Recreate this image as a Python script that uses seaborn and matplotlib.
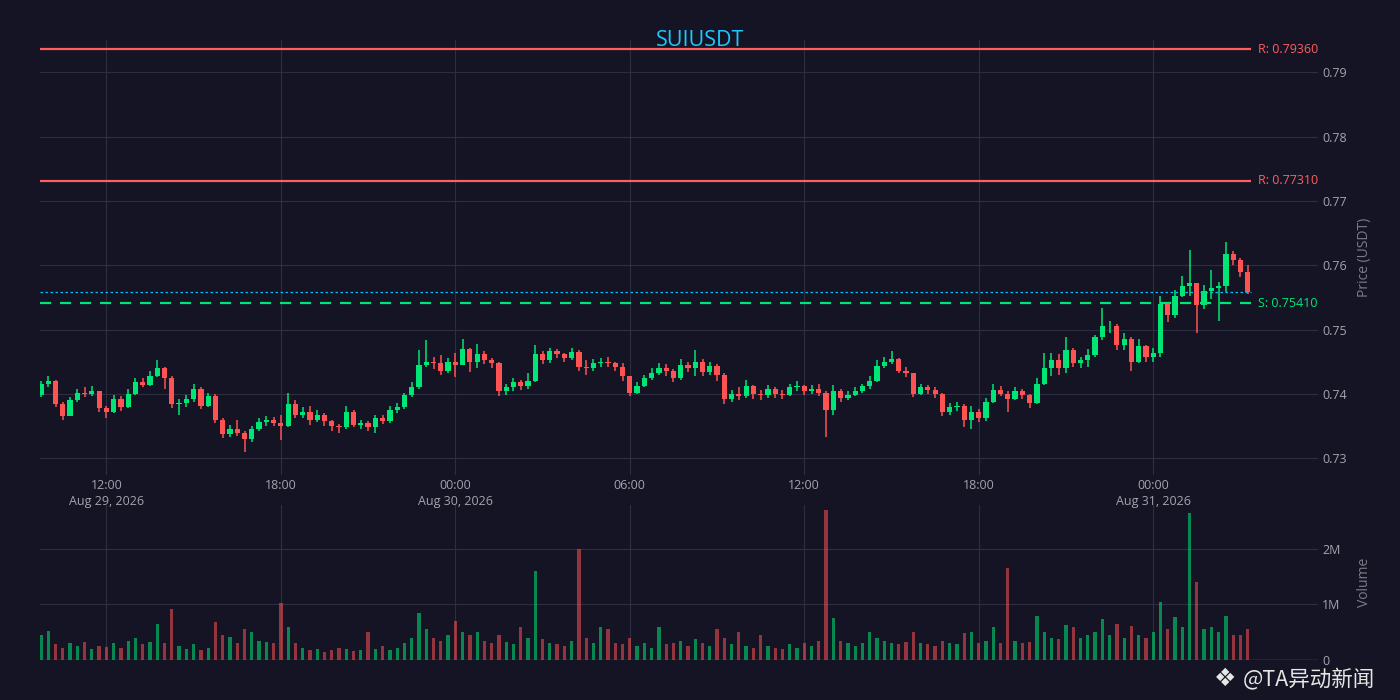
import matplotlib
matplotlib.use("Agg")
import matplotlib.pyplot as plt
import matplotlib.dates as mdates
import numpy as np
import pandas as pd
import seaborn as sns

# 15 minute candles, SUIUSDT
symbol = "SUIUSDT"
start_time = "2026-08-29 09:45"
first_open = 0.7398

closes = [
    0.7415, 0.7420, 0.7385, 0.7365, 0.7390, 0.7402, 0.7400, 0.7405, 0.7378, 0.7372,
    0.7392, 0.7380, 0.7400, 0.7418, 0.7414, 0.7428, 0.7440, 0.7425, 0.7385, 0.7386,
    0.7392, 0.7408, 0.7382, 0.7396, 0.7360, 0.7338, 0.7345, 0.7340, 0.7330, 0.7345,
    0.7356, 0.7360, 0.7355, 0.7350, 0.7385, 0.7368, 0.7372, 0.7360, 0.7368, 0.7358,
    0.7350, 0.7348, 0.7372, 0.7352, 0.7355, 0.7348, 0.7362, 0.7358, 0.7375, 0.7380,
    0.7398, 0.7410, 0.7445, 0.7450, 0.7448, 0.7436, 0.7450, 0.7445, 0.7470, 0.7450,
    0.7462, 0.7452, 0.7448, 0.7405, 0.7410, 0.7418, 0.7412, 0.7420, 0.7462, 0.7452,
    0.7466, 0.7462, 0.7456, 0.7465, 0.7442, 0.7440, 0.7448, 0.7450, 0.7448, 0.7442,
    0.7428, 0.7402, 0.7412, 0.7424, 0.7432, 0.7440, 0.7436, 0.7424, 0.7445, 0.7440,
    0.7450, 0.7434, 0.7444, 0.7430, 0.7392, 0.7400, 0.7396, 0.7412, 0.7400, 0.7398,
    0.7408, 0.7400, 0.7398, 0.7410, 0.7412, 0.7404, 0.7408, 0.7402, 0.7375, 0.7405,
    0.7394, 0.7398, 0.7404, 0.7412, 0.7420, 0.7444, 0.7450, 0.7455, 0.7436, 0.7432,
    0.7400, 0.7410, 0.7406, 0.7400, 0.7372, 0.7380, 0.7382, 0.7360, 0.7372, 0.7362,
    0.7388, 0.7406, 0.7400, 0.7392, 0.7404, 0.7398, 0.7386, 0.7415, 0.7440, 0.7452,
    0.7440, 0.7468, 0.7448, 0.7452, 0.7460, 0.7488, 0.7505, 0.7506, 0.7476, 0.7486,
    0.7450, 0.7474, 0.7458, 0.7464, 0.7540, 0.7522, 0.7552, 0.7568, 0.7572, 0.7538,
    0.7560, 0.7565, 0.7568, 0.7618, 0.7608, 0.7590, 0.7558,
]
highs = [
    0.7420, 0.7428, 0.7422, 0.7388, 0.7395, 0.7408, 0.7410, 0.7412, 0.7405, 0.7382,
    0.7398, 0.7396, 0.7408, 0.7425, 0.7424, 0.7436, 0.7452, 0.7442, 0.7428, 0.7392,
    0.7398, 0.7416, 0.7410, 0.7402, 0.7400, 0.7362, 0.7352, 0.7360, 0.7342, 0.7350,
    0.7362, 0.7366, 0.7364, 0.7368, 0.7402, 0.7390, 0.7380, 0.7382, 0.7375, 0.7370,
    0.7360, 0.7354, 0.7382, 0.7375, 0.7360, 0.7358, 0.7368, 0.7368, 0.7382, 0.7386,
    0.7402, 0.7418, 0.7468, 0.7484, 0.7458, 0.7460, 0.7456, 0.7464, 0.7485, 0.7472,
    0.7477, 0.7466, 0.7456, 0.7450, 0.7416, 0.7424, 0.7422, 0.7432, 0.7476, 0.7466,
    0.7472, 0.7470, 0.7464, 0.7472, 0.7468, 0.7452, 0.7454, 0.7456, 0.7458, 0.7450,
    0.7448, 0.7428, 0.7418, 0.7430, 0.7440, 0.7448, 0.7446, 0.7438, 0.7455, 0.7450,
    0.7468, 0.7455, 0.7450, 0.7446, 0.7432, 0.7406, 0.7410, 0.7422, 0.7414, 0.7406,
    0.7414, 0.7410, 0.7406, 0.7416, 0.7420, 0.7414, 0.7414, 0.7416, 0.7404, 0.7414,
    0.7408, 0.7404, 0.7410, 0.7416, 0.7428, 0.7452, 0.7458, 0.7466, 0.7456, 0.7442,
    0.7430, 0.7416, 0.7414, 0.7410, 0.7402, 0.7386, 0.7388, 0.7384, 0.7382, 0.7376,
    0.7394, 0.7416, 0.7412, 0.7404, 0.7410, 0.7408, 0.7400, 0.7424, 0.7464, 0.7464,
    0.7462, 0.7488, 0.7472, 0.7458, 0.7470, 0.7492, 0.7534, 0.7514, 0.7508, 0.7494,
    0.7488, 0.7486, 0.7476, 0.7472, 0.7552, 0.7542, 0.7562, 0.7584, 0.7624, 0.7572,
    0.7570, 0.7592, 0.7574, 0.7636, 0.7622, 0.7612, 0.7600,
]
lows = [
    0.7395, 0.7410, 0.7380, 0.7360, 0.7365, 0.7388, 0.7395, 0.7396, 0.7372, 0.7363,
    0.7370, 0.7374, 0.7378, 0.7398, 0.7410, 0.7412, 0.7426, 0.7408, 0.7378, 0.7368,
    0.7380, 0.7388, 0.7376, 0.7380, 0.7355, 0.7332, 0.7333, 0.7335, 0.7310, 0.7326,
    0.7342, 0.7350, 0.7350, 0.7328, 0.7348, 0.7362, 0.7362, 0.7352, 0.7356, 0.7350,
    0.7343, 0.7340, 0.7346, 0.7348, 0.7346, 0.7342, 0.7340, 0.7354, 0.7355, 0.7370,
    0.7376, 0.7395, 0.7408, 0.7442, 0.7438, 0.7430, 0.7432, 0.7426, 0.7445, 0.7434,
    0.7440, 0.7446, 0.7440, 0.7396, 0.7398, 0.7404, 0.7406, 0.7408, 0.7418, 0.7446,
    0.7448, 0.7456, 0.7450, 0.7452, 0.7436, 0.7430, 0.7436, 0.7442, 0.7442, 0.7436,
    0.7420, 0.7396, 0.7400, 0.7410, 0.7422, 0.7430, 0.7428, 0.7418, 0.7422, 0.7434,
    0.7428, 0.7428, 0.7430, 0.7420, 0.7384, 0.7388, 0.7390, 0.7394, 0.7392, 0.7390,
    0.7394, 0.7394, 0.7392, 0.7396, 0.7404, 0.7398, 0.7400, 0.7396, 0.7333, 0.7368,
    0.7388, 0.7390, 0.7396, 0.7402, 0.7408, 0.7418, 0.7440, 0.7446, 0.7432, 0.7426,
    0.7395, 0.7398, 0.7400, 0.7394, 0.7366, 0.7368, 0.7374, 0.7348, 0.7346, 0.7356,
    0.7358, 0.7386, 0.7396, 0.7372, 0.7390, 0.7392, 0.7378, 0.7384, 0.7414, 0.7428,
    0.7430, 0.7432, 0.7442, 0.7440, 0.7442, 0.7458, 0.7484, 0.7494, 0.7468, 0.7468,
    0.7436, 0.7448, 0.7450, 0.7450, 0.7458, 0.7512, 0.7518, 0.7550, 0.7552, 0.7494,
    0.7532, 0.7548, 0.7514, 0.7558, 0.7600, 0.7582, 0.7555,
]
# volume in millions
volumes_m = [
    0.45, 0.52, 0.28, 0.22, 0.30, 0.25, 0.33, 0.20, 0.26, 0.24,
    0.30, 0.22, 0.35, 0.40, 0.28, 0.32, 0.65, 0.30, 0.92, 0.25,
    0.20, 0.28, 0.18, 0.22, 0.68, 0.45, 0.42, 0.30, 0.55, 0.50,
    0.35, 0.32, 0.30, 1.03, 0.60, 0.30, 0.22, 0.18, 0.20, 0.15,
    0.18, 0.22, 0.20, 0.16, 0.18, 0.50, 0.20, 0.25, 0.18, 0.22,
    0.30, 0.40, 0.85, 0.55, 0.40, 0.35, 0.45, 0.70, 0.50, 0.45,
    0.50, 0.35, 0.30, 0.45, 0.32, 0.28, 0.60, 0.40, 1.60, 0.38,
    0.30, 0.28, 0.25, 0.35, 2.00, 0.40, 0.30, 0.60, 0.55, 0.30,
    0.28, 0.40, 0.25, 0.30, 0.22, 0.60, 0.28, 0.30, 0.35, 0.25,
    0.38, 0.30, 0.25, 0.55, 0.40, 0.28, 0.50, 0.25, 0.22, 0.45,
    0.25, 0.22, 0.20, 0.28, 0.22, 0.30, 0.25, 0.35, 2.70, 0.75,
    0.35, 0.30, 0.25, 0.30, 0.50, 0.40, 0.35, 0.30, 0.28, 0.32,
    0.50, 0.30, 0.28, 0.25, 0.35, 0.30, 0.28, 0.48, 0.50, 0.30,
    0.35, 0.60, 0.30, 1.65, 0.35, 0.30, 0.32, 0.80, 0.50, 0.40,
    0.38, 0.63, 0.60, 0.40, 0.45, 0.50, 0.73, 0.45, 0.65, 0.40,
    0.62, 0.45, 0.40, 0.50, 1.05, 0.55, 0.78, 0.60, 2.65, 1.40,
    0.55, 0.60, 0.50, 0.80, 0.45, 0.45, 0.55,
]

resistance_levels = [0.7936, 0.7731]
support_levels = [0.7541]

tick_times = ["2026-08-29 12:00", "2026-08-29 18:00", "2026-08-30 00:00", "2026-08-30 06:00",
              "2026-08-30 12:00", "2026-08-30 18:00", "2026-08-31 00:00"]
tick_labels = ["12:00\nAug 29, 2026", "18:00", "00:00\nAug 30, 2026", "06:00",
               "12:00", "18:00", "00:00\nAug 31, 2026"]
price_ticks = [0.73, 0.74, 0.75, 0.76, 0.77, 0.78, 0.79]
volume_ticks = [0, 1e6, 2e6]
volume_tick_labels = ["0", "1M", "2M"]

# colours
BG = "#141424"
GRID = "#2e2e42"
UP = "#00e676"
DOWN = "#ff5252"
TICK = "#a4a4ae"
LABEL = "#7c7c88"

df = pd.DataFrame({
    "time": pd.date_range(start_time, periods=len(closes), freq="15min"),
    "open": [first_open] + closes[:-1],
    "high": highs,
    "low": lows,
    "close": closes,
    "volume": np.array(volumes_m) * 1e6,
})
df["up"] = df["close"] >= df["open"]
df["x"] = mdates.date2num(df["time"])
df["color"] = np.where(df["up"], UP, DOWN)

sns.set_theme(style="dark", rc={
    "figure.facecolor": BG,
    "axes.facecolor": BG,
    "axes.edgecolor": BG,
    "grid.color": GRID,
    "grid.linewidth": 0.8,
    "xtick.color": TICK,
    "ytick.color": TICK,
    "text.color": TICK,
})
plt.rcParams["font.family"] = ["Open Sans", "DejaVu Sans"]

fig = plt.figure(figsize=(14, 7), dpi=100)
ax = fig.add_axes([40 / 1400, 1 - 475 / 700, 1278 / 1400, 435 / 700])
axv = fig.add_axes([40 / 1400, 40 / 700, 1278 / 1400, 155 / 700], sharex=ax)
axv.patch.set_visible(False)

step = 15 / 1440  # one candle in days
body_w = step * 0.72

# candles
ax.vlines(df["x"], df["low"], df["high"], colors=df["color"], linewidth=1.1, zorder=3)
body_h = (df["close"] - df["open"]).abs().clip(lower=0.00006)
body_bottom = df[["open", "close"]].min(axis=1)
ax.bar(df["x"], body_h, bottom=body_bottom, width=body_w, color=df["color"],
       linewidth=0, zorder=4)

# volume
axv.bar(df["x"], df["volume"], width=step * 0.45, color=df["color"], alpha=0.55,
        linewidth=0, zorder=3)

x_left = mdates.date2num(pd.Timestamp("2026-08-29 09:43"))
x_right = mdates.date2num(pd.Timestamp("2026-08-31 05:40"))
x_end = df["x"].iloc[-1] + step / 2
ax.set_xlim(x_left, x_right)

# support / resistance / last price
for lvl in resistance_levels:
    ax.hlines(lvl, x_left, x_end, color="#ff5f5f", linewidth=1.6, zorder=2)
    ax.annotate(f"R: {lvl:.5f}", xy=(x_end, lvl), xytext=(5, 0), textcoords="offset points",
                va="center", ha="left", color="#ff5f5f", fontsize=9)
for lvl in support_levels:
    ax.hlines(lvl, x_left, x_end, color="#00e676", linewidth=1.6, linestyles=(0, (5, 4)), zorder=2)
    ax.annotate(f"S: {lvl:.5f}", xy=(x_end, lvl), xytext=(5, 0), textcoords="offset points",
                va="center", ha="left", color="#00e676", fontsize=9)
last_close = df["close"].iloc[-1]
ax.hlines(last_close, x_left, x_end, color="#00bfff", linewidth=0.9, linestyles=(0, (2, 2)), zorder=2)

# axes styling
ax.set_ylim(0.7274, 0.7950)
ax.set_yticks(price_ticks)
ax.set_yticklabels([f"{t:.2f}" for t in price_ticks])
ax.yaxis.tick_right()
ax.yaxis.set_label_position("right")
ax.set_ylabel("Price (USDT)", color=LABEL, fontsize=10, labelpad=7)
ax.set_xticks(mdates.date2num(pd.to_datetime(tick_times)))
ax.set_xticklabels(tick_labels, fontsize=9, linespacing=1.3)
ax.tick_params(axis="both", length=0, pad=3, labelsize=9)
ax.grid(True, axis="both")

axv.set_ylim(0, 2.79e6)
axv.set_yticks(volume_ticks)
axv.set_yticklabels(volume_tick_labels)
axv.yaxis.tick_right()
axv.yaxis.set_label_position("right")
axv.set_ylabel("Volume", color=LABEL, fontsize=10, labelpad=12)
axv.tick_params(axis="both", length=0, pad=3, labelsize=9)
axv.tick_params(axis="x", labelbottom=False)
axv.grid(True, axis="both")
axv.axhline(0, color="#5a5a6a", linewidth=1.0, zorder=4)

for a in (ax, axv):
    for s in a.spines.values():
        s.set_visible(False)

fig.text(0.5, 1 - 41 / 700, symbol, ha="center", va="center", color="#1ec8ff", fontsize=15.5)

# watermark
fig.text(1225 / 1400, 1 - 679 / 700, "\u2756", ha="center", va="center", color="#e6e6e6",
         fontsize=18, family=["DejaVu Sans"])
fig.text(1243 / 1400, 1 - 679 / 700, "@TA异动新闻", ha="left", va="center", color="#e6e6e6",
         fontsize=15.5, family=["Noto Sans CJK SC", "DejaVu Sans"])

fig.savefig("out.png", dpi=100, facecolor=BG)
